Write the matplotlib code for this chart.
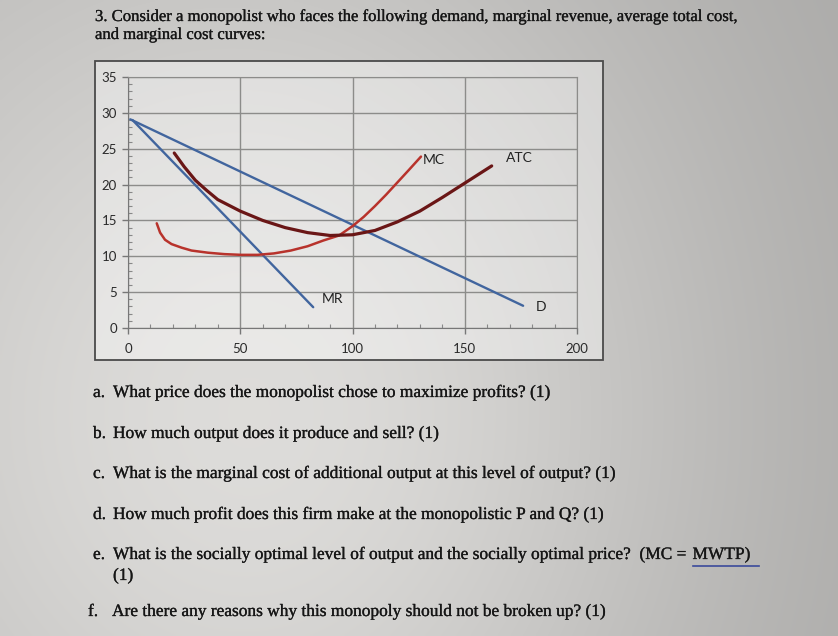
import numpy as np
import matplotlib
matplotlib.use("Agg")
import matplotlib.pyplot as plt
import matplotlib.patheffects as pe
from matplotlib.patches import Rectangle
from matplotlib.ticker import MultipleLocator

# curve data
d_q = [1, 176]
d_p = [29.1, 3.1]
mr_q = [2, 82.5]
mr_p = [29.0, 2.9]
mc_q = [12.8, 14.3, 16.5, 19.4, 23.9, 28.3, 35.6, 43, 50.4, 57.7, 65, 72.5, 80, 87, 94, 100, 105, 110, 115, 120, 125, 130.5]
mc_p = [14.6, 13.3, 12.3, 11.7, 11.2, 10.8, 10.5, 10.3, 10.2, 10.2, 10.4, 10.8, 11.4, 12.2, 12.9, 14.2, 15.5, 17.0, 18.6, 20.3, 22.0, 23.9]
atc_q = [20.6, 25, 30, 35, 40, 50, 60, 70, 80, 90, 100, 110, 120, 130, 140, 150, 162]
atc_p = [24.4, 22.5, 20.6, 19.2, 17.9, 16.3, 15.0, 14.0, 13.3, 12.9, 13.0, 13.6, 14.8, 16.3, 18.2, 20.2, 22.6]

labels = {"MC": (131.5, 23.4), "ATC": (168.5, 23.7), "MR": (86.5, 4.1), "D": (181.5, 2.9)}

title = ["3. Consider a monopolist who faces the following demand, marginal revenue, average total cost,",
         "and marginal cost curves:"]
questions = [
    ("a.", "What price does the monopolist chose to maximize profits? (1)"),
    ("b.", "How much output does it produce and sell? (1)"),
    ("c.", "What is the marginal cost of additional output at this level of output? (1)"),
    ("d.", "How much profit does this firm make at the monopolistic P and Q? (1)"),
    ("e.", "What is the socially optimal level of output and the socially optimal price?  (MC = "),
    ("f.", "Are there any reasons why this monopoly should not be broken up? (1)"),
]
q_rows = [393, 434, 474, 515, 555, 612]

W, H = 838, 636
fig = plt.figure(figsize=(W / 100, H / 100), dpi=100)

# paper background, photographed with uneven light
bg = fig.add_axes([0, 0, 1, 1], zorder=-10)
xx, yy = np.meshgrid(np.linspace(0, 1, 300), np.linspace(1, 0, 230))
b = 0.70 + 0.18 * np.exp(-((xx - 0.33) ** 2 / 0.30 + (yy - 0.35) ** 2 / 0.7)) - 0.04 * xx
img = np.dstack([b * 1.0, b * 0.995, b * 0.985]).clip(0, 1)
bg.imshow(img, extent=[0, 1, 0, 1], aspect="auto", interpolation="bilinear")
bg.set_xlim(0, 1)
bg.set_ylim(0, 1)
bg.axis("off")


def fx(px):
    return px / W


def fy(py):
    return 1 - py / H


# chart area box
bg.add_patch(Rectangle((fx(95), fy(360)), fx(603) - fx(95), fy(61) - fy(360),
                       facecolor="white", alpha=0.38, edgecolor="none"))
bg.add_patch(Rectangle((fx(95), fy(360)), fx(603) - fx(95), fy(61) - fy(360),
                       facecolor="none", edgecolor="#4a4a4a", lw=1.3))

ax = fig.add_axes([fx(128), fy(328), fx(577) - fx(128), fy(77) - fy(328)])
ax.patch.set_alpha(0)
blue = "#41659e"
ax.plot(d_q, d_p, color=blue, lw=1.7, solid_capstyle="round")
ax.plot(mr_q, mr_p, color=blue, lw=1.7, solid_capstyle="round")
ax.plot(mc_q, mc_p, color="#b8332c", lw=1.8, solid_capstyle="round")
ax.plot(atc_q, atc_p, color="#6a1616", lw=2.3, solid_capstyle="round")

for name, (x, y) in labels.items():
    ax.text(x, y, name, fontsize=10, family="Lato", color="#222222", va="center", ha="left")

ax.set_xlim(0, 200)
ax.set_ylim(0, 35)
ax.xaxis.set_major_locator(MultipleLocator(50))
ax.yaxis.set_major_locator(MultipleLocator(5))
ax.xaxis.set_minor_locator(MultipleLocator(10))
ax.yaxis.set_minor_locator(MultipleLocator(1))
ax.grid(True, which="major", color="#8c8c8a", lw=1.0)
ax.set_axisbelow(True)
ax.tick_params(which="major", direction="out", length=4, color="#777777", width=1,
               labelsize=9.5, labelcolor="#2a2a2a", pad=4)
ax.tick_params(axis="x", which="major", pad=7)
ax.tick_params(which="minor", direction="in", length=3, color="#888888", width=0.8)
for lab in ax.get_xticklabels() + ax.get_yticklabels():
    lab.set_family("Lato")
for side in ["left", "bottom"]:
    ax.spines[side].set_color("#777777")
for side in ["top", "right"]:
    ax.spines[side].set_color("#8c8c8a")

serif = "Liberation Serif"
ink = "#161616"
heavy = [pe.withStroke(linewidth=0.2, foreground=ink)]
fig.text(fx(95), fy(21), title[0], family=serif, fontsize=12, color=ink, va="baseline", path_effects=heavy)
fig.text(fx(95), fy(39), title[1], family=serif, fontsize=12, color=ink, va="baseline", path_effects=heavy)

texts = []
qs = 12.5
for (tag, q), row in zip(questions, q_rows):
    lx = 88 if tag == "f." else 93
    tx = 112 if tag == "f." else 113
    fig.text(fx(lx), fy(row), tag, family=serif, fontsize=qs, color=ink, va="center", path_effects=heavy)
    texts.append(fig.text(fx(tx), fy(row), q, family=serif, fontsize=qs, color=ink, va="center",
                          path_effects=heavy))
fig.text(fx(113), fy(576), "(1)", family=serif, fontsize=qs, color=ink, va="center", path_effects=heavy)

# underlined MWTP) after the e. line
fig.canvas.draw()
r = fig.canvas.get_renderer()
ext = texts[4].get_window_extent(r)
t2 = fig.text(ext.x1 / W, fy(555), "MWTP)", family=serif, fontsize=qs, color=ink, va="center",
              path_effects=heavy)
fig.canvas.draw()
e2 = t2.get_window_extent(r)
fig.add_artist(plt.Line2D([e2.x0 / W, (e2.x1 + 8) / W], [fy(566), fy(566)], color="#3b4a9b", lw=1.2))

fig.savefig("out.png", dpi=100)
